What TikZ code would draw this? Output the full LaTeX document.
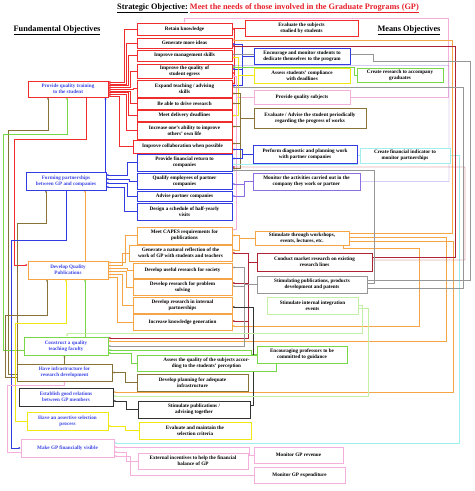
\documentclass[tikz,border=0pt]{standalone}
\usepackage{fontspec}
\setmainfont{Liberation Serif}
\usepackage{tikz}
\usetikzlibrary{arrows.meta}
\usetikzlibrary{calc}
\usetikzlibrary{backgrounds}

\definecolor{objred}{RGB}{240,45,45}
\definecolor{objblue}{RGB}{50,60,225}
\definecolor{objpurple}{RGB}{140,110,225}
\definecolor{objorange}{RGB}{245,165,70}
\definecolor{objgreen}{RGB}{120,215,70}
\definecolor{objlgreen}{RGB}{195,240,165}
\definecolor{objbrown}{RGB}{135,115,55}
\definecolor{objyellow}{RGB}{240,232,20}
\definecolor{objpink}{RGB}{245,175,220}
\definecolor{objcyan}{RGB}{160,238,238}
\definecolor{objdred}{RGB}{175,35,55}
\definecolor{objgray}{RGB}{150,150,150}
\definecolor{objblack}{RGB}{50,50,50}
\definecolor{fundblue}{RGB}{60,70,230}
\definecolor{titlered}{RGB}{230,30,40}

\begin{document}
\begin{tikzpicture}[x=0.05cm,y=-0.05cm,>={Triangle[length=2.6pt,width=2.8pt]},line width=0.8pt,
    mean/.style={draw=#1,fill=white,line width=1.4pt,align=center,inner sep=0.5pt,font=\fontsize{7.3}{8.3}\selectfont\bfseries},
    fund/.style={draw=#1,fill=white,line width=1.4pt,align=center,inner sep=0.5pt,text=fundblue,font=\fontsize{7.3}{8.4}\selectfont\bfseries},
    wh/.style 2 args={minimum width=#1*0.05cm,minimum height=#2*0.05cm},
    head/.style={font=\fontsize{11.8}{13}\selectfont\bfseries,inner sep=0pt}]
  \useasboundingbox (0,0) rectangle (474,491);
  %
  \node[head] (title)    at (268,8)  {\underline{Strategic Objective:} \textcolor{titlered}{\underline{Meet the needs of those involved in the Graduate Programs (GP)}}};
  \node[head] (fundhead) at (57,30)  {\underline{Fundamental Objectives}};
  \node[head] (meanhead) at (409,30) {\underline{Means Objectives}};
  %
  % fundamental objectives
  \node[fund=objred,wh={80}{16}]    (fo1) at (68,89)      {Provide quality training\\to the student};
  \node[fund=objblue,wh={80}{18}]   (fo2) at (66,181)     {Forming partnerships\\between GP and companies};
  \node[fund=objorange,wh={80}{18}] (fo3) at (68,270)     {Develop Quality\\Publications};
  \node[fund=objgreen,wh={84}{18}]  (fo4) at (66,346)     {Construct a quality\\teaching faculty};
  \node[fund=objbrown,wh={95}{17}]  (fo5) at (64.5,372.5) {Have infrastructure for\\research development};
  \node[fund=objblack,wh={94}{18}]  (fo6) at (66,397)     {Establish good relations\\between GP members};
  \node[fund=objyellow,wh={81}{18}] (fo7) at (67.5,421)   {Have an assertive selection\\process};
  \node[fund=objpink,wh={93}{18}]   (fo8) at (67.5,448)   {Make GP financially visible};
  %
  % means objectives, first column
  \node[mean=objred,wh={95}{12}]  (retain)   at (184.5,29)    {Retain knowledge};
  \node[mean=objred,wh={95}{10}]  (ideas)    at (184.5,43)    {Generate more ideas};
  \node[mean=objred,wh={95}{11}]  (mgmt)     at (184.5,55.5)  {Improve management skills};
  \node[mean=objred,wh={95}{14}]  (egress)   at (184.5,71)    {Improve the quality of\\student egress};
  \node[mean=objred,wh={95}{17}]  (expand)   at (184.5,88.5)  {Expand teaching / advising\\skills};
  \node[mean=objred,wh={95}{11}]  (beable)   at (184.5,103.5) {Be able to drive research};
  \node[mean=objred,wh={95}{11}]  (delivery) at (184.5,115.5) {Meet delivery deadlines};
  \node[mean=objred,wh={95}{17}]  (ability)  at (184.5,130.5) {Increase one's ability to improve\\others' own life};
  \node[mean=objred,wh={99}{13}]  (collab)   at (182.5,146.5) {Improve collaboration when possible};
  \node[mean=objblue,wh={95}{17}] (finret)   at (184.5,162.5) {Provide financial return to\\companies};
  \node[mean=objblue,wh={95}{16}] (qualify)  at (184.5,181)   {Qualify employees of partner\\companies};
  \node[mean=objblue,wh={95}{10}] (advise)   at (184.5,196)   {Advise partner companies};
  \node[mean=objblue,wh={95}{17}] (sched)    at (184.5,211.5) {Design a schedule of half-yearly\\visits};
  \node[mean=objorange,wh={95}{17}]  (capes)    at (184.5,235.5) {Meet CAPES requirements for\\publications};
  \node[mean=objorange,wh={103}{16}] (reflect)  at (180.5,253)   {Generate a natural reflection of the\\work of GP with students and teachers};
  \node[mean=objorange,wh={99}{15}]  (useful)   at (182.5,270.5) {Develop useful research for society};
  \node[mean=objorange,wh={99}{16}]  (problem)  at (182.5,287)   {Develop research for problem\\solving};
  \node[mean=objorange,wh={99}{16}]  (internal) at (182.5,305)   {Develop research in internal\\partnerships};
  \node[mean=objorange,wh={99}{16}]  (knowgen)  at (182.5,322)   {Increase knowledge generation};
  \node[mean=objgreen,wh={139}{16}]  (assess)   at (206.5,363)   {Assess the quality of the subjects accor-\\ding to the students' perception};
  \node[mean=objbrown,wh={111}{17}]  (plan)     at (192.5,382.5) {Develop planning for adequate\\infrastructure};
  \node[mean=objblack,wh={112}{17}]  (stimadv)  at (194,409.5)   {Stimulate publications /\\advising together};
  \node[mean=objyellow,wh={112}{17}] (crit)     at (195,430.5)   {Evaluate and maintain the\\selection criteria};
  \node[mean=objpink,wh={110}{16}]   (extinc)   at (193,461)     {External incentives to help the financial\\balance of GP};
  %
  % means objectives, second column
  \node[mean=objred,wh={113}{16}]    (evs)    at (301.5,28)  {Evaluate the subjects\\studied by students};
  \node[mean=objblue,wh={96}{16}]    (enc)    at (302,56)    {Encourage and monitor students to\\dedicate themselves to the program};
  \node[mean=objyellow,wh={96}{15}]  (cmp)    at (302,75.5)  {Assess students' compliance\\with deadlines};
  \node[mean=objgreen,wh={86}{14}]   (grad)   at (400,75)    {Create research to accompany\\graduates};
  \node[mean=objpink,wh={96}{14}]    (sub)    at (302,97)    {Provide quality subjects};
  \node[mean=objbrown,wh={112}{20}]  (adv)    at (310,118)   {Evaluate / Advise the student periodically\\regarding the progress of works};
  \node[mean=objblue,wh={104}{18}]   (diag)   at (305,154)   {Perform diagnostic and planning work\\with partner companies};
  \node[mean=objcyan,wh={90}{15}]    (finind) at (405,155.5) {Create financial indicator to\\monitor partnerships};
  \node[mean=objpurple,wh={107}{17}] (mon)    at (306.5,181.5) {Monitor the activities carried out in the\\company they work or partner};
  \node[mean=objorange,wh={94}{14}]  (wsh)    at (302,238)   {Stimulate through workshops,\\events, lectures, etc.};
  \node[mean=objdred,wh={115}{18}]   (mkt)    at (314.5,262) {Conduct market research on existing\\research lines};
  \node[mean=objgray,wh={110}{17}]   (pat)    at (312,284.5) {Stimulating publications, products\\development and patents};
  \node[mean=objlgreen,wh={91}{17}]  (integ)  at (312.5,305.5) {Stimulate internal integration\\events};
  \node[mean=objgreen,wh={90}{17}]   (prof)   at (302,354.5) {Encouraging professors to be\\committed to guidance};
  \node[mean=objpink,wh={89}{16}]    (gprev)  at (298.5,455) {Monitor GP revenue};
  \node[mean=objpink,wh={91}{16}]    (gpexp)  at (299.5,475) {Monitor GP expenditure};
  %
  \begin{scope}[on background layer]
  % links between fundamental objectives
  \draw[objblue,->] ($(fo2.north east)+(-1,0)$) -- ($(fo1.south east)+(-3,0)$);
  \draw[objred,->] ($(fo1.south)+(18,0)$) |- (14,139) |- ($(fo3.west)+(0,-5)$);
  \draw[objbrown,->] ($(fo5.west)+(0,2)$) -| (8,130) -| ($(fo1.south)+(-20,0)$);
  \draw[objgreen,->] ($(fo4.west)+(0,4)$) -| (3,134) -| ($(fo1.south)+(-1,0)$);
  \draw[objbrown,->] ($(fo5.north west)+(1,0)$) |- ($(fo2.south)+(-20,33)$) -- ($(fo2.south)+(-20,0)$);
  \draw[objblue,->] (fo2.south) |- (11,240) |- (fo8.west);
  \draw[objorange,->] ($(fo3.north)+(17,0)$) -- ($(fo2.south)+(19,0)$);
  \draw[objbrown,->] ($(fo5.west)+(0,5)$) -| (5,315) -| ($(fo3.south)+(-21,0)$);
  \draw[objyellow,->] (fo7.west) -| (15,323) -| ($(fo3.south)+(-2,0)$);
  \draw[objgreen,->] ($(fo4.north)+(19,0)$) -- ($(fo3.south)+(17,0)$);
  \draw[objbrown,->] (fo5.north) -- (fo5.north |- fo4.south);
  \draw[objpink,->] ($(fo8.west)+(0,4)$) -| (7,385) -| (fo5.south);
  %
  % first column to fundamental objectives
  \draw[objred,->] (retain.west) -| ($(fo1.east)+(16,-7)$) -- ($(fo1.east)+(0,-7)$);
  \draw[objred,->] (ideas.west) -| ($(fo1.east)+(18,-5.25)$) -- ($(fo1.east)+(0,-5.25)$);
  \draw[objred,->] (mgmt.west) -| ($(fo1.east)+(20,-3.5)$) -- ($(fo1.east)+(0,-3.5)$);
  \draw[objred,->] (egress.west) -| ($(fo1.east)+(22,-1.75)$) -- ($(fo1.east)+(0,-1.75)$);
  \draw[objred,->] (expand.west) -| ($(fo1.east)+(25,0)$) -- (fo1.east);
  \draw[objred,->] (beable.west) -| ($(fo1.east)+(22,1.75)$) -- ($(fo1.east)+(0,1.75)$);
  \draw[objred,->] (delivery.west) -| ($(fo1.east)+(20,3.5)$) -- ($(fo1.east)+(0,3.5)$);
  \draw[objred,->] (ability.west) -| ($(fo1.east)+(18,5.25)$) -- ($(fo1.east)+(0,5.25)$);
  \draw[objred,->] (collab.west) -| ($(fo1.east)+(11,7)$) -- ($(fo1.east)+(0,7)$);
  \draw[objblue,->] (finret.west) -| ($(fo2.east)+(21,-6)$) -- ($(fo2.east)+(0,-6)$);
  \draw[objblue,->] (qualify.west) -| ($(fo2.east)+(23,-2)$) -- ($(fo2.east)+(0,-2)$);
  \draw[objblue,->] (advise.west) -| ($(fo2.east)+(21,2)$) -- ($(fo2.east)+(0,2)$);
  \draw[objblue,->] (sched.west) -| ($(fo2.east)+(18,6)$) -- ($(fo2.east)+(0,6)$);
  \draw[objorange,->] (capes.west) -| ($(fo3.east)+(17,-7.5)$) -- ($(fo3.east)+(0,-7.5)$);
  \draw[objorange,->] (reflect.west) -| ($(fo3.east)+(14,-4.5)$) -- ($(fo3.east)+(0,-4.5)$);
  \draw[objorange,->] (useful.west) -| ($(fo3.east)+(19,-1.5)$) -- ($(fo3.east)+(0,-1.5)$);
  \draw[objorange,->] (problem.west) -| ($(fo3.east)+(18,1.5)$) -- ($(fo3.east)+(0,1.5)$);
  \draw[objorange,->] (internal.west) -| ($(fo3.east)+(14,4.5)$) -- ($(fo3.east)+(0,4.5)$);
  \draw[objorange,->] (knowgen.west) -| ($(fo3.east)+(9,7.5)$) -- ($(fo3.east)+(0,7.5)$);
  \draw[objgreen,->] (assess.west) -| ($(fo4.east)+(23,7)$) -- ($(fo4.east)+(0,7)$);
  \draw[objgreen,->] (prof.west) -- ++(-5,0) |- ($(fo4.east)+(0,4)$);
  \draw[objbrown,->] (plan.west) -| ($(fo5.east)+(13,0)$) -- (fo5.east);
  \draw[objblack,->] (stimadv.west) -| ($(fo6.east)+(13,4)$) -- ($(fo6.east)+(0,4)$);
  \draw[objyellow,->] (crit.west) -| ($(fo7.east)+(17,5)$) -- ($(fo7.east)+(0,5)$);
  \draw[objpink,->] (extinc.west) -| ($(fo8.east)+(12,4)$) -- ($(fo8.east)+(0,4)$);
  \draw[objpink,->] (gprev.west) -- ++(-4,0) |- ($(fo8.east)+(0,-1)$);
  \draw[objpink,->] (gpexp.west) -| ($(fo8.east)+(16,8)$) -- ($(fo8.east)+(0,8)$);
  \draw[objcyan,->] (finind.east) -| (459,443) -- ($(fo8.east)+(0,-5)$);
  %
  % second column to first column
  \draw[objred,->] (evs.west) -- ++(-10,0) |- (retain.east);
  \draw[objred,->] (evs.west) -- ++(-10,0) |- ($(egress.east)+(0,2)$);
  \draw[objred,->] (evs.west) -- ++(-10,0) |- ($(expand.east)+(0,-5)$);
  \draw[objblue,->] (enc.west) -- ++(-11,0) |- ($(ideas.east)+(0,1)$);
  \draw[objblue,->] (enc.west) -- ++(-11,0) |- ($(egress.east)+(0,-2)$);
  \draw[objblue,->] (enc.west) -- ++(-11,0) |- ($(expand.east)+(0,-3)$);
  \draw[objyellow,->] (cmp.west) -- ++(-15,0) |- ($(mgmt.east)+(0,2)$);
  \draw[objyellow,->] (cmp.west) -- ++(-15,0) |- (delivery.east);
  \draw[objgreen,->] (grad.west) -- ++(-2,0) |- ($(egress.east)+(0,-4)$);
  \draw[objpink,->] (sub.east) -| (448,18) -| (retain.north);
  \draw[objpink,->] (sub.west) -- ++(-17,0) |- ($(egress.east)+(0,5)$);
  \draw[objpink,->] (sub.west) -- ++(-17,0) |- ($(capes.east)+(0,-6)$);
  \draw[objbrown,->] (adv.west) -- ++(-13,0) |- ($(expand.east)+(0,5)$);
  \draw[objbrown,->] (adv.west) -- ++(-13,0) |- (beable.east);
  \draw[objbrown,->] (adv.west) -- ++(-13,0) |- ($(ability.east)+(0,-4)$);
  \draw[objbrown,->] (adv.west) -- ++(-13,0) |- ($(collab.east)+(0,-3)$);
  \draw[objbrown,->] (adv.west) -- ++(-13,0) |- ($(finret.east)+(0,6)$);
  \draw[objblue,->] (diag.west) -- ++(-10,0) |- ($(collab.east)+(0,3)$);
  \draw[objblue,->] (diag.west) -- ++(-10,0) |- ($(finret.east)+(0,-4)$);
  \draw[objcyan,->] (finind.west) -- ++(-2,0) |- ($(finret.east)+(0,2)$);
  \draw[objpurple,->] (mon.west) -- ++(-8,0) |- ($(qualify.east)+(0,3)$);
  \draw[objpurple,->] (mon.west) -- ++(-8,0) |- (advise.east);
  \draw[objpurple,->] (mon.east) -| (449,65.5) -- ($(egress.east)+(0,-5.5)$);
  \draw[objorange,->] ($(wsh.east)+(0,-5)$) -| (452,40) -- ($(ideas.east)+(0,-3)$);
  \draw[objorange,->] ($(wsh.east)+(0,-1)$) -| (446,341) -- ($(fo4.east)+(0,-5)$);
  \draw[objorange,->] ($(wsh.east)+(0,3)$) -| (453,392) -- ($(fo6.east)+(0,-5)$);
  \draw[objorange,->] ($(wsh.south east)+(-6,0)$) |- (419,248) |- ($(knowgen.east)+(0,4)$);
  \draw[objorange,->] (wsh.west) -- ++(-15,0) |- (capes.east);
  \draw[objorange,->] (wsh.west) -- ++(-15,0) |- ($(reflect.east)+(0,-3)$);
  \draw[objdred,->] ($(mkt.east)+(0,-5)$) -| (455,46) -- ($(ideas.east)+(0,3)$);
  \draw[objdred,->] ($(mkt.east)+(0,-2)$) -| (465,167) -- ($(finret.east)+(0,4.5)$);
  \draw[objdred,->] (mkt.west) -- ++(-8,0) |- (reflect.east);
  \draw[objdred,->] (mkt.west) -- ++(-8,0) |- ($(problem.east)+(0,-4)$);
  \draw[objdred,->] (mkt.west) -- ++(-8,0) |- ($(knowgen.east)+(0,-1)$);
  \draw[objdred,->] (mkt.west) -- ++(-8,0) |- ($(fo4.east)+(0,-8)$);
  \draw[objgray,->] ($(pat.east)+(0,-4)$) -| (470,61) -| (373,54.5) -- ($(mgmt.east)+(0,-1)$);
  \draw[objgray,->] ($(pat.east)+(0,3.5)$) -| (463,87) -- ($(expand.east)+(0,-1.5)$);
  \draw[objgray,->] ($(pat.east)+(0,-1)$) -| (374,170.5) -- ($(finret.east)+(0,8)$);
  \draw[objgray,->] (pat.west) -- ++(-12,0) |- ($(useful.east)+(0,-3)$);
  \draw[objgray,->] (pat.west) -- ++(-12,0) |- ($(problem.east)+(0,-1)$);
  \draw[objgray,->] (pat.west) -- ++(-12,0) |- (fo4.east);
  \draw[objblack,line width=1.2pt,->] ($(stimadv.east)+(0,-4)$) -| (253,307) -- ($(internal.east)+(0,2)$);
  \draw[objlgreen,->] (integ.east) -| (362,333) -| ($(fo4.north)+(1,0)$);
  \draw[objlgreen,->] ($(integ.east)+(0,3)$) -| (368,396) -- ($(fo6.east)+(0,-1)$);
  \end{scope}
\end{tikzpicture}
\end{document}
